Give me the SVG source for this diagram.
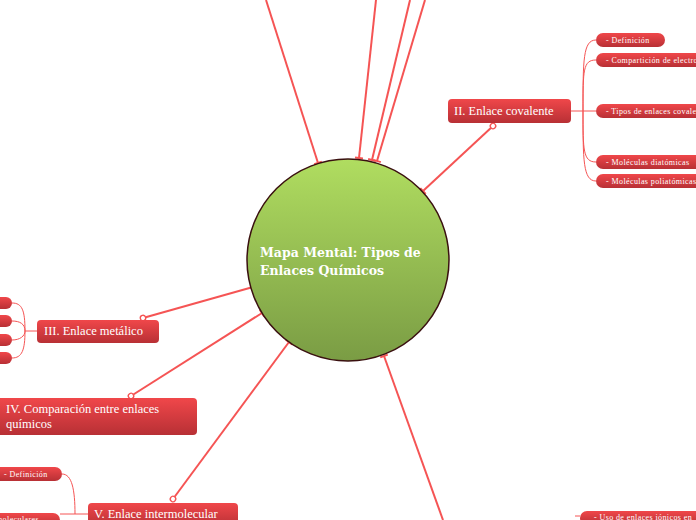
<svg xmlns="http://www.w3.org/2000/svg" width="696" height="520" viewBox="0 0 696 520">
<defs>
<linearGradient id="g" x1="0" y1="0" x2="0" y2="1"><stop offset="0" stop-color="#b0dd60"/><stop offset="1" stop-color="#7a9c44"/></linearGradient>
<linearGradient id="r" x1="0" y1="0" x2="0" y2="1"><stop offset="0" stop-color="#f0474a"/><stop offset="1" stop-color="#b83035"/></linearGradient>
<marker id="t" viewBox="-5 -5 10 10" markerWidth="10" markerHeight="10" orient="auto" markerUnits="userSpaceOnUse"><path d="M0,-4V4" stroke="#f55454" stroke-width="2"/></marker>
<marker id="o" viewBox="-5 -5 10 10" markerWidth="9" markerHeight="9" orient="auto" markerUnits="userSpaceOnUse"><circle r="3" fill="#fff" stroke="#f55454" stroke-width="1.5"/></marker>
</defs>
<style>
.c{stroke:#f55454;stroke-width:2;fill:none}
.s{stroke:#f55454;stroke-width:1;fill:none}
.n{fill:url(#r)}
.tl{font-family:"Liberation Serif",serif;fill:#fff;font-size:12.5px}
.ts{font-family:"Liberation Serif",serif;fill:#fff;font-size:8px;letter-spacing:0.4px}
</style>
<g id="connectors">
<path class="c" d="M266,0L318,163" marker-end="url(#t)"/>
<path class="c" d="M376,0L359,158" marker-end="url(#t)"/>
<path class="c" d="M410,0L372,160" marker-end="url(#t)"/>
<path class="c" d="M425,0L377,161" marker-end="url(#t)"/>
<path class="c" d="M493,126L423,191" marker-start="url(#o)" marker-end="url(#t)"/>
<path class="c" d="M143,318L253,287" marker-start="url(#o)" marker-end="url(#t)"/>
<path class="c" d="M131,396L262,313" marker-start="url(#o)" marker-end="url(#t)"/>
<path class="c" d="M173,499L289,342" marker-start="url(#o)" marker-end="url(#t)"/>
<path class="c" d="M443,520L384,356" marker-end="url(#t)"/>
<path class="s" d="M571,111H583M583,111C583,60 583,40 596,40M583,111C583,70 583,60 596,60M583,111H596M583,111C583,150 583,162 596,162M583,111C583,160 583,181 596,181"/>
<path class="s" d="M37,331H25M25,331C25,310 22,303 12,303M25,331C25,324 20,321 12,321M25,331C25,336 20,340 12,340M25,331C25,350 22,358 12,358"/>
<path class="s" d="M88,514H75M75,514C75,490 72,474 62,474M75,514H60"/>
<path class="s" d="M580,516H575"/>
</g>
<g id="center"><circle cx="348" cy="260" r="101" fill="url(#g)" stroke="#3a1010" stroke-width="1.5"/>
<text font-family="DejaVu Serif,serif" font-weight="bold" font-size="12.5" fill="#fff"><tspan x="260" y="257">Mapa Mental: Tipos de</tspan><tspan x="260" y="275">Enlaces Químicos</tspan></text></g>
<g id="covalente"><rect class="n" x="448" y="99" width="123" height="24" rx="4"/><text class="tl" x="454" y="115">II. Enlace covalente</text></g>
<g id="c1"><rect class="n" x="596" y="33" width="69" height="14" rx="7"/><text class="ts" x="606" y="43">- Definición</text></g>
<g id="c2"><rect class="n" x="596" y="53" width="110" height="14" rx="7"/><text class="ts" x="606" y="63">- Compartición de electrones</text></g>
<g id="c3"><rect class="n" x="596" y="104" width="110" height="14" rx="7"/><text class="ts" x="606" y="114">- Tipos de enlaces covalentes</text></g>
<g id="c4"><rect class="n" x="596" y="155" width="110" height="14" rx="7"/><text class="ts" x="606" y="165">- Moléculas diatómicas</text></g>
<g id="c5"><rect class="n" x="596" y="174" width="110" height="14" rx="7"/><text class="ts" x="606" y="184">- Moléculas poliatómicas</text></g>
<g id="metalico"><rect class="n" x="37" y="320" width="122" height="23" rx="4"/><text class="tl" x="44" y="335">III. Enlace metálico</text></g>
<g id="m1"><rect class="n" x="-20" y="297" width="32" height="12" rx="6"/></g>
<g id="m2"><rect class="n" x="-20" y="315" width="32" height="12" rx="6"/></g>
<g id="m3"><rect class="n" x="-20" y="334" width="32" height="12" rx="6"/></g>
<g id="m4"><rect class="n" x="-20" y="352" width="32" height="12" rx="6"/></g>
<g id="comparacion"><rect class="n" x="-5" y="398" width="202" height="37" rx="4"/><text class="tl"><tspan x="6" y="413">IV. Comparación entre enlaces</tspan><tspan x="6" y="428">químicos</tspan></text></g>
<g id="intermolecular"><rect class="n" x="88" y="503" width="150" height="24" rx="4"/><text class="tl" x="94" y="518">V. Enlace intermolecular</text></g>
<g id="i1"><rect class="n" x="-10" y="467" width="72" height="14" rx="7"/><text class="ts" x="4" y="477">- Definición</text></g>
<g id="i2"><rect class="n" x="-10" y="513" width="70" height="14" rx="7"/><text class="ts" x="-4" y="522">moleculares</text></g>
<g id="uso"><rect class="n" x="580" y="511" width="130" height="14" rx="7"/><text class="ts" x="594" y="520">- Uso de enlaces iónicos en</text></g>
</svg>
